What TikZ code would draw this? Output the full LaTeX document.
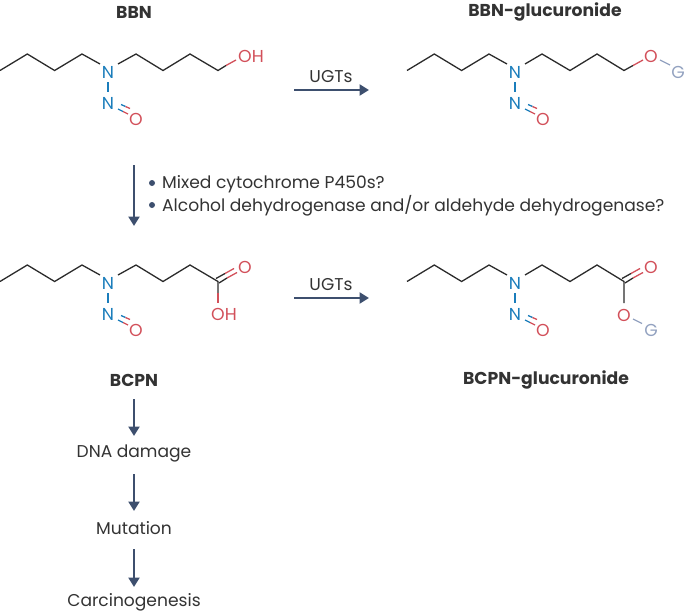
\documentclass[tikz,border=0pt]{standalone}
\usepackage{fontspec}
\setmainfont{Poppins}
\usetikzlibrary{arrows.meta}
\definecolor{nblue}{HTML}{1B7DBB}
\definecolor{ored}{HTML}{D2505A}
\definecolor{gblue}{HTML}{93A2C0}
\definecolor{bond}{HTML}{2B2B2B}
\definecolor{arr}{HTML}{3D4F6E}
\definecolor{txt}{HTML}{333333}
\tikzset{
 x=1pt,y=-1pt,
 atom/.style={inner sep=0pt,yshift=-1pt,font=\fontsize{17.3}{17.3}\selectfont},
 nitro/.style={atom,text=nblue},
 oxy/.style={atom,text=ored},
 glu/.style={atom,text=gblue},
 title/.style={inner sep=0pt,yshift=-2pt,text=txt,font=\fontsize{17.2}{17.2}\selectfont\bfseries},
 label/.style={inner sep=0pt,yshift=-1.5pt,text=txt,font=\fontsize{17.1}{17.1}\selectfont},
 bondl/.style={draw=bond,line width=1.3pt,line join=miter},
 nb/.style={draw=nblue,line width=1.3pt},
 ob/.style={draw=ored,line width=1.3pt},
 gb/.style={draw=gblue,line width=1.3pt},
 flow/.style={draw=arr,line width=2.4pt,-{Triangle[length=9.5pt,width=11pt]}},
}
\newcommand{\nitroso}[2]{%
 \begin{scope}[shift={(#1,#2)}]
  \node[nitro] (n1#1#2) at (108,71) {N};
  \node[nitro] (n2#1#2) at (108,102) {N};
  \node[oxy] (o#1#2) at (136,118) {O};
  \coordinate (c0) at (0,70.5);
  \draw[bondl] (c0) -- (27.3,54) -- (54.6,70.5) -- (82,54) -- (100,64);
  \draw[nb] (108,82) -- (108,92);
  \draw[nb] (121,104.5) -- (125.5,106.5);
  \draw[ob] (125.5,106.5) -- (130,108.5);
  \draw[nb] (118,109) -- (123,111.5);
  \draw[ob] (123,111.5) -- (128,114);
 \end{scope}}
\begin{document}
\begin{tikzpicture}
\useasboundingbox (0,0) rectangle (685,613);
\node[title] (t1) at (134,10) {BBN};
\node[title] (t2) at (545,10) {BBN-glucuronide};
\node[title] (t3) at (134,378) {BCPN};
\node[title] (t4) at (546,378) {BCPN-glucuronide};
\nitroso{0}{0}
\node[oxy] (oh1) at (251,55) {OH};
\draw[bondl] (118,64) -- (136,54) -- (163,70.5) -- (190,54) -- (218,70.5) -- (226,65.5);
\draw[ob] (226,65.5) -- (236,60);
\nitroso{407}{0}
\node[oxy] (o2) at (651,55) {O};
\node[glu] (g2) at (678,71) {G};
\draw[bondl] (525,64) -- (542,54) -- (570,70.5) -- (597,54) -- (624,70.5) -- (633,65.5);
\draw[ob] (633,65.5) -- (643,60);
\draw[gb] (660,60) -- (670,65);
\nitroso{0}{211}
\node[oxy] (oa3) at (245,266) {O};
\node[oxy] (oh3) at (224,313) {OH};
\draw[bondl] (118,275) -- (136,265) -- (163,281.5) -- (190,265) -- (218,281.5) -- (218,293);
\draw[ob] (218,293) -- (218,303);
\draw[bondl] (216,278.5) -- (225,273.5);
\draw[ob] (225,273.5) -- (234,268.5);
\draw[bondl] (219,283) -- (227,278);
\draw[ob] (227,278) -- (237,272.5);
\nitroso{407}{211}
\node[oxy] (oa4) at (651,266) {O};
\node[oxy] (o4) at (624,314) {O};
\node[glu] (g4) at (651,329) {G};
\draw[bondl] (525,275) -- (542,265) -- (570,281.5) -- (597,265) -- (624,281.5) -- (624,303);
\draw[bondl] (622,278.5) -- (631,273.5);
\draw[ob] (631,273.5) -- (640,268.5);
\draw[bondl] (625,283) -- (633,278);
\draw[ob] (633,278) -- (643,272.5);
\draw[gb] (633,319) -- (642,323.5);
\node[label] (u1) at (331,75) {UGTs};
\node[label] (u2) at (331,283) {UGTs};
\coordinate (a1s) at (294,90); \coordinate (a1e) at (369,90);
\coordinate (a2s) at (294,298); \coordinate (a2e) at (369,298);
\draw[flow] (a1s) -- (a1e);
\draw[flow] (a2s) -- (a2e);
\coordinate (v1s) at (134,165); \coordinate (v1e) at (134,226);
\draw[flow] (v1s) -- (v1e);
\fill[arr] (152,183) circle (3) (152,205) circle (3);
\node[label,anchor=west] (b1) at (162,183) {Mixed cytochrome P450s?};
\node[label,anchor=west] (b2) at (162,204.5) {Alcohol dehydrogenase and/or aldehyde dehydrogenase?};
\node[label] (d) at (134,452) {DNA damage};
\node[label] (m) at (134,527) {Mutation};
\node[label] (c) at (134,601) {Carcinogenesis};
\coordinate (s0) at (134,399); \coordinate (s1) at (134,436);
\coordinate (s2) at (134,474); \coordinate (s3) at (134,511);
\coordinate (s4) at (134,549); \coordinate (s5) at (134,587);
\draw[flow] (s0) -- (s1);
\draw[flow] (s2) -- (s3);
\draw[flow] (s4) -- (s5);
\end{tikzpicture}
\end{document}
